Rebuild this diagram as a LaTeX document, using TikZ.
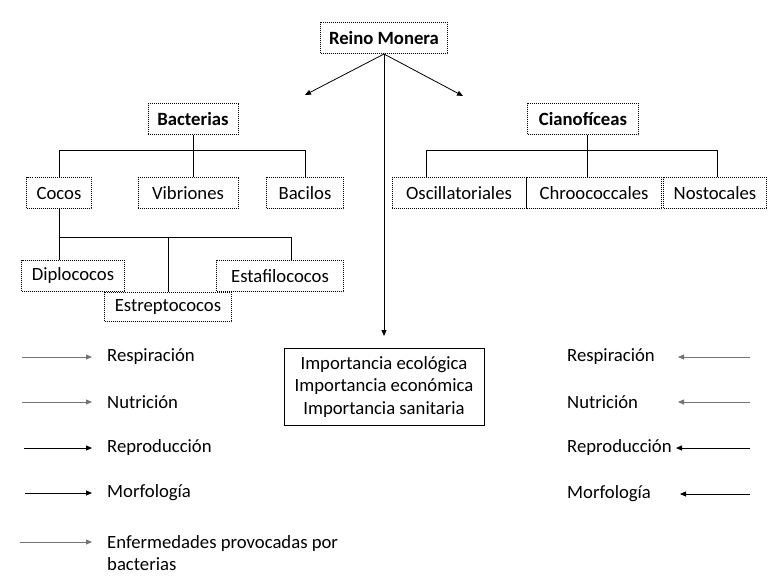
\documentclass[tikz,border=0pt]{standalone}
\usepackage{fontspec}
\setmainfont{Carlito}
\usetikzlibrary{arrows.meta,positioning}

\begin{document}
\begin{tikzpicture}[
  x=1pt, y=-1pt,
  >={Triangle[length=6pt,width=5pt]},
  every node/.style={font=\fontsize{18.7}{22.5}\selectfont},
  box/.style={draw, densely dotted, line width=1pt, minimum width=#1, minimum height=31pt, inner sep=0pt},
  hbox/.style={box=#1, font=\fontsize{18.7}{22.5}\selectfont\bfseries},
  tree/.style={line width=0.9pt},
  rel/.style={->, line width=0.8pt},
  item/.style={anchor=west, align=left, inner sep=2pt}
]
\useasboundingbox (0,0) rectangle (768,576);

\node[hbox=127pt] (reino) at (384,38)  {Reino Monera};
\node[hbox=90pt]  (bact)  at (193,119) {Bacterias};
\node[hbox=111pt] (ciano) at (583,119) {Cianofíceas};

\node[box=65pt]  (cocos)   at (59,193)  {Cocos};
\node[box=100pt] (vib)     at (188,193) {Vibriones};
\node[box=77pt]  (bacilos) at (305,193) {Bacilos};
\node[box=103pt] (diplo)   at (73,276)  {Diplococos};
\node[box=127pt, minimum height=29pt] (estrep) at (168,307) {Estreptococos};
\node[box=127pt] (estaf)   at (280,276) {Estafilococos};

\node[box=134pt] (oscil) at (459,193) {Oscillatoriales};
\node[box=135pt] (chroo) at (594,193) {Chroococcales};
\node[box=103pt] (nosto) at (715,193) {Nostocales};

\node[draw, line width=1pt, minimum width=200pt, minimum height=77pt, align=center] (imp) at (384,387)
  {Importancia ecológica\\Importancia económica\\Importancia sanitaria};

\coordinate (bj)  at (193,150);
\coordinate (cj)  at (59,237);
\coordinate (cj2) at (291,237);
\coordinate (nj)  at (587,150);
\coordinate (nj1) at (426,150);
\coordinate (nj2) at (717,150);
\coordinate (tl)  at (305,95);
\coordinate (tr)  at (463,96);

\draw[rel] (reino.south) -- (tl);
\draw[rel] (reino.south) -- (tr);
\draw[rel] (reino.south) -- (imp.north) [shorten >=12pt];

\draw[tree] (bact.south) -- (bj);
\draw[tree] (cocos.north) |- (bj);
\draw[tree] (bacilos.north) |- (bj);
\draw[tree] (vib.north -| bj) -- (bj);

\draw[tree] (cocos.south) -- (cj) -- (cj2) -- (cj2 |- estaf.north);
\draw[tree] (cj) -- (cj |- diplo.north);
\draw[tree] (estrep.north |- cj) -- (estrep.north);

\draw[tree] (ciano.south -| nj) -- (nj);
\draw[tree] (nj1) -- (nj2);
\draw[tree] (nj1) -- (nj1 |- oscil.north);
\draw[tree] (nj) -- (nj |- chroo.north);
\draw[tree] (nj2) -- (nj2 |- nosto.north);

\node[item] (lresp)  at (105,357) {Respiración};
\node[item] (lnutr)  at (105,402) {Nutrición};
\node[item] (lrepr)  at (105,448) {Reproducción};
\node[item] (lmorf)  at (105,493) {Morfología};
\node[item] (lenf)   at (105,553) {Enfermedades provocadas por\\bacterias};

\coordinate (la1) at (22,357);
\coordinate (la2) at (22,402);
\coordinate (la3) at (24,448);
\coordinate (la4) at (25,493);
\coordinate (la5) at (20,542);

\draw[rel, black!55] (la1) -- (lresp) [shorten >=13pt];
\draw[rel, black!55] (la2) -- (lnutr) [shorten >=13pt];
\draw[rel] (la3) -- (lrepr) [shorten >=13pt];
\draw[rel] (la4) -- (lmorf) [shorten >=13pt];
\draw[rel, black!55] (la5) -- (la5 -| lenf.west) [shorten >=13pt];

\node[item] (rresp) at (565,357) {Respiración};
\node[item] (rnutr) at (565,402) {Nutrición};
\node[item] (rrepr) at (565,448) {Reproducción};
\node[item] (rmorf) at (565,494) {Morfología};

\coordinate (rs1) at (750,357); \coordinate (re1) at (678,357);
\coordinate (rs2) at (750,402); \coordinate (re2) at (678,402);
\coordinate (rs3) at (750,448); \coordinate (re3) at (676,448);
\coordinate (rs4) at (750,494); \coordinate (re4) at (680,494);

\draw[rel, black!55] (rs1) -- (re1);
\draw[rel, black!55] (rs2) -- (re2);
\draw[rel] (rs3) -- (re3);
\draw[rel] (rs4) -- (re4);
\end{tikzpicture}
\end{document}
